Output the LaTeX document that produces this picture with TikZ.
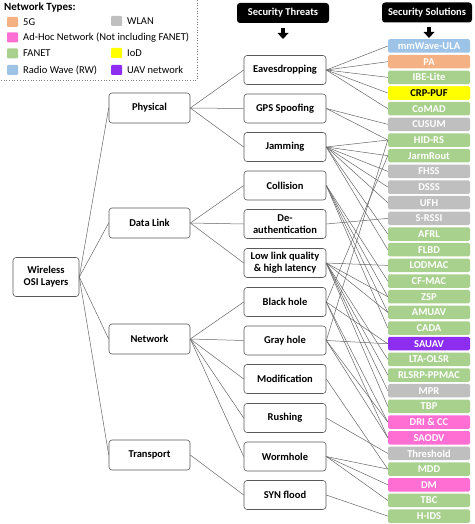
\documentclass[tikz,border=0pt]{standalone}
\usepackage{fontspec}
\setmainfont{Carlito}
\begin{document}
\begin{tikzpicture}[x=1pt,y=-1pt,
  box/.style={draw=black!65,line width=0.6pt,rounded corners=3pt,fill=white,font=\bfseries\fontsize{10.5}{12}\selectfont,align=center,inner sep=1pt},
  threat/.style={box,minimum width=82pt,minimum height=29pt},
  layer/.style={box,minimum width=81pt,minimum height=30pt},
  sol/.style={rounded corners=1.5pt,minimum width=82pt,minimum height=13.5pt,inner sep=0pt,text=white,font=\bfseries\fontsize{10.5}{10}\selectfont},
  head/.style={fill=black,rounded corners=3pt,text=white,font=\bfseries\fontsize{10.5}{11}\selectfont,minimum height=20pt,inner sep=2pt},
  conn/.style={draw=black!60,line width=0.5pt},
  legsq/.style={rounded corners=1pt,minimum width=11pt,minimum height=10pt,inner sep=0pt},
  legtx/.style={anchor=west,font=\fontsize{10.5}{11}\selectfont,inner sep=0pt}
]
\definecolor{cfiveg}{RGB}{244,177,131}
\definecolor{cadhoc}{RGB}{255,110,210}
\definecolor{cfanet}{RGB}{169,209,142}
\definecolor{crw}{RGB}{157,195,230}
\definecolor{cwlan}{RGB}{191,191,191}
\definecolor{ciod}{RGB}{255,255,0}
\definecolor{cuav}{RGB}{140,45,240}
\useasboundingbox (0,0) rectangle (474,524);
% legend
\draw[black!50,dotted,line width=0.7pt] (197,0) -- (197,80) -- (0,80);
\node[anchor=west,font=\bfseries\fontsize{11}{12}\selectfont,inner sep=0pt] (lt) at (4,8) {Network Types:};
\node[legsq,fill=cfiveg] (l1) at (12.5,22) {};
\node[legtx] (t1) at (23,22) {5G};
\node[legsq,fill=cadhoc] (l2) at (12.5,37.5) {};
\node[legtx] (t2) at (23,37.5) {Ad-Hoc Network (Not including FANET)};
\node[legsq,fill=cfanet] (l3) at (12.5,53.5) {};
\node[legtx] (t3) at (23,53.5) {FANET};
\node[legsq,fill=crw] (l4) at (12.5,70) {};
\node[legtx] (t4) at (23,70) {Radio Wave (RW)};
\node[legsq,fill=cwlan] (l5) at (116.5,21) {};
\node[legtx] (t5) at (127,21) {WLAN};
\node[legsq,fill=ciod] (l6) at (116.5,53) {};
\node[legtx] (t6) at (127,53) {IoD};
\node[legsq,fill=cuav] (l7) at (116.5,70) {};
\node[legtx] (t7) at (127,70) {UAV network};
% headers
\node[head,minimum width=92pt] (hT) at (283,13) {Security Threats};
\node[head,minimum width=90pt] (hS) at (427,12.5) {Security Solutions};
\fill (281,28) rectangle (285,33);
\fill (277.5,33) -- (288.5,33) -- (283,39) -- cycle;
\fill (427,27) rectangle (431,32);
\fill (423.5,32) -- (434.5,32) -- (429,38) -- cycle;
% OSI and layers
\node[box,minimum width=66pt,minimum height=39pt] (osi) at (46,277) {Wireless\\OSI Layers};
\node[layer] (phy) at (149.5,108) {Physical};
\node[layer] (dl) at (149.5,223) {Data Link};
\node[layer] (net) at (149.5,339) {Network};
\node[layer] (tr) at (149.5,455) {Transport};
% threats
\foreach \n/\y/\t in {eav/70/Eavesdropping,gps/108.5/GPS Spoofing,jam/147/Jamming,col/185.5/Collision,dea/224/De-\\authentication,llq/263/Low link quality\\\& high latency,bh/302/Black hole,gh/340.5/Gray hole,mod/379/Modification,rus/418/Rushing,wor/456.5/Wormhole,syn/495/SYN flood}
  \node[threat] (\n) at (285,\y) {\t};
% solutions
\foreach \i/\t/\c in {0/mmWave-ULA/crw,1/PA/cfiveg,2/IBE-Lite/cfanet,3/CRP-PUF/ciod,4/CoMAD/cfanet,5/CUSUM/cwlan,6/HID-RS/cfanet,7/JarmRout/cfanet,8/FHSS/cwlan,9/DSSS/cwlan,10/UFH/cwlan,11/S-RSSI/cwlan,12/AFRL/cfanet,13/FLBD/cfanet,14/LODMAC/cfanet,15/CF-MAC/cfanet,16/ZSP/cfanet,17/AMUAV/cfanet,18/CADA/cfanet,19/SAUAV/cuav,20/LTA-OLSR/cfanet,21/RLSRP-PPMAC/cfanet,22/MPR/cwlan,23/TBP/cfanet,24/DRI \& CC/cadhoc,25/SAODV/cadhoc,26/Threshold/cwlan,27/MDD/cfanet,28/DM/cadhoc,29/TBC/cfanet,30/H-IDS/cfanet}
  \node[sol,fill=\c] (s\i) at (429,46+15.67*\i) {\t};
\node[sol,fill=ciod,text=black] at (s3) {CRP-PUF};
% connectors
\foreach \l in {phy,dl,net,tr} \draw[conn] (osi.east) -- (\l.west);
\foreach \t in {eav,gps,jam} \draw[conn] (phy.east) -- (\t.west);
\foreach \t in {col,dea,llq} \draw[conn] (dl.east) -- (\t.west);
\foreach \t in {bh,gh,mod,rus,wor} \draw[conn] (net.east) -- (\t.west);
\draw[conn] (tr.east) -- (syn.west);
\foreach \t/\s in {eav/0,eav/1,eav/2,eav/3,eav/4,gps/5,gps/6,jam/6,jam/7,jam/8,jam/9,jam/10,jam/12,jam/13,col/15,col/16,col/17,col/18,dea/11,llq/14,llq/16,llq/17,llq/20,llq/21,llq/22,llq/23,bh/7,bh/19,bh/24,bh/25,gh/6,gh/19,gh/24,gh/25,mod/27,rus/26,wor/27,wor/28,wor/29,syn/30}
  \draw[conn] (\t.east) -- (s\s.west);
\end{tikzpicture}
\end{document}
